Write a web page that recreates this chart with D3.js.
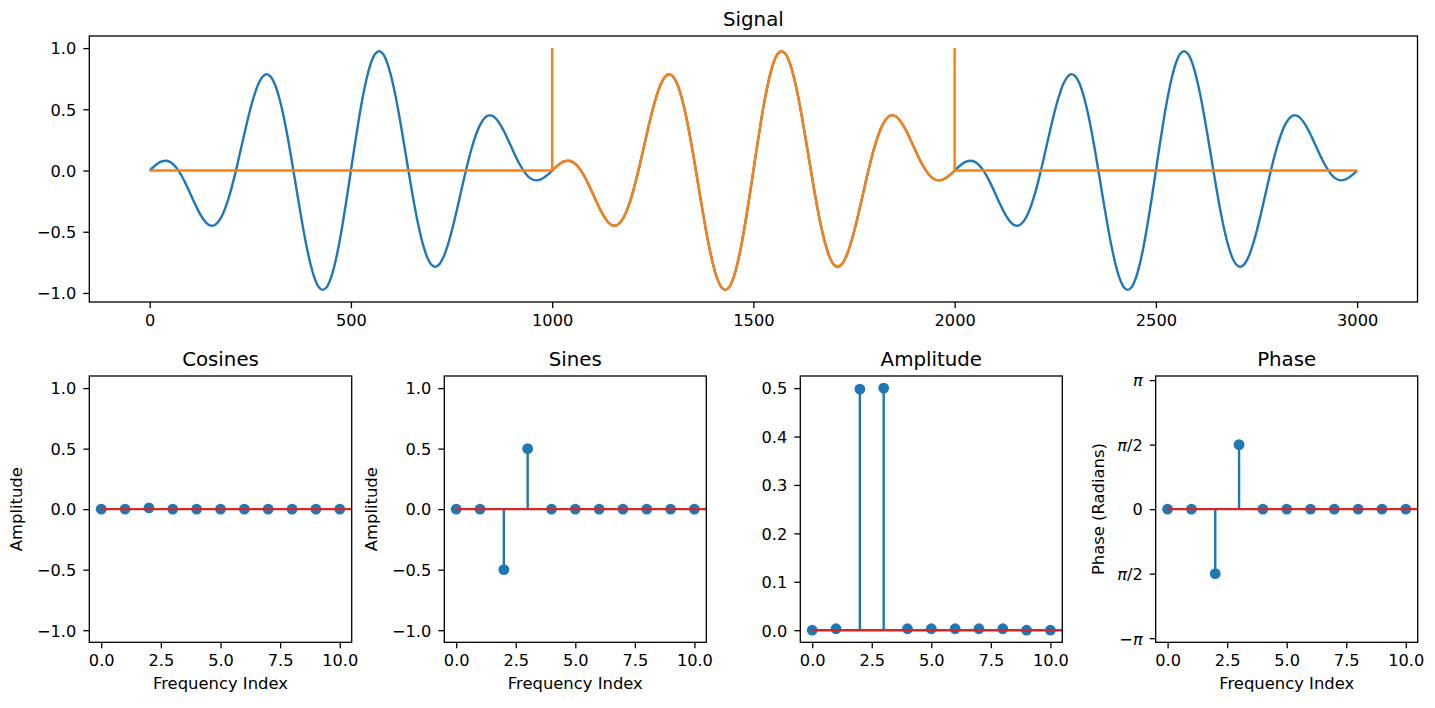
<!DOCTYPE html>
<html><head><meta charset="utf-8">
<script src="https://cdn.jsdelivr.net/npm/d3@7"></script>
<style>
body{margin:0;background:#fff}
svg{display:block}
text{font-family:"DejaVu Sans",sans-serif;fill:#000}
</style>
</head><body>
<svg id="c" width="1435" height="708"></svg>
<script>
// ---------------- DATA ----------------
// One period (t = 0..1000, every 10 samples) of the signal
const sampleStep = 10;
const periodLength = 1000;
const periodCount = 3;
const signalPeriod = [
  0, 0.031, 0.057, 0.074, 0.080, 0.071, 0.047, 0.007, -0.047, -0.111,
  -0.182, -0.254, -0.323, -0.381, -0.425, -0.448, -0.448, -0.421, -0.367, -0.286,
  -0.182, -0.058, 0.080, 0.224, 0.367, 0.500, 0.615, 0.706, 0.764, 0.787,
  0.769, 0.712, 0.615, 0.484, 0.323, 0.139, -0.057, -0.256, -0.448, -0.622,
  -0.769, -0.881, -0.951, -0.975, -0.951, -0.880, -0.764, -0.610, -0.425, -0.218,
  0, 0.218, 0.425, 0.610, 0.764, 0.880, 0.951, 0.975, 0.951, 0.881,
  0.769, 0.622, 0.448, 0.256, 0.057, -0.139, -0.323, -0.484, -0.615, -0.712,
  -0.769, -0.787, -0.764, -0.706, -0.615, -0.500, -0.367, -0.224, -0.080, 0.058,
  0.182, 0.286, 0.367, 0.421, 0.448, 0.448, 0.425, 0.381, 0.323, 0.254,
  0.182, 0.111, 0.047, -0.007, -0.047, -0.071, -0.080, -0.074, -0.057, -0.031,
  0
];
// Orange: windowed segment (1000..2000) with spikes of 1.0 at the edges, zero elsewhere
const windowStart = 1000;
const windowEnd = 2000;
const spikeTimes = [1000, 2000];
const spikeValue = 1.0;
const zeroSegments = [[0, 1000], [2000, 3000]];

const topXTicks = [0, 500, 1000, 1500, 2000, 2500, 3000];
const topYTicks = [-1.0, -0.5, 0.0, 0.5, 1.0];

const freqIndex = [0, 1, 2, 3, 4, 5, 6, 7, 8, 9, 10];
const cosines   = [0, 0, 0.01, 0, 0, 0, 0, 0, 0, 0, 0];
const sines     = [0, 0, -0.5, 0.5, 0, 0, 0, 0, 0, 0, 0];
const amplitude = [0, 0.003, 0.498, 0.5, 0.003, 0.003, 0.003, 0.003, 0.003, 0, 0];
const phase     = [0, 0, -1.5708, 1.5708, 0, 0, 0, 0, 0, 0, 0];

const freqTicks = [0, 2.5, 5, 7.5, 10];
const unitTicks = [-1.0, -0.5, 0.0, 0.5, 1.0];
const ampTicks = [0, 0.1, 0.2, 0.3, 0.4, 0.5];
const phaseTicks = [-Math.PI, -Math.PI / 2, 0, Math.PI / 2, Math.PI];
const phaseTickLabels = ["−π", "π/2", "0", "π/2", "π"];

// ---------------- STYLE ----------------
const C0 = "#1f77b4", C1 = "#ff7f0e", C3 = "#d62728";
const tickFont = 16.2, titleFont = 19.8, labelFont = 16.4;
const svg = d3.select("#c");
const fmt1 = v => d3.format(".1f")(v).replace("-", "−");

function frame(g, w, h) {
  g.append("rect").attr("x", 0).attr("y", 0).attr("width", w).attr("height", h)
    .attr("fill", "none").attr("stroke", "#000").attr("stroke-width", 1.3);
}
function styleAxis(ax) {
  ax.select(".domain").remove();
  ax.selectAll(".tick line").attr("stroke", "#000").attr("stroke-width", 1.3);
  ax.selectAll(".tick text").attr("font-size", tickFont).attr("font-family", "DejaVu Sans").attr("fill", "#000");
}
function xAxis(g, x, h, ticks, format) {
  const ax = g.append("g").attr("transform", `translate(0,${h})`)
    .call(d3.axisBottom(x).tickValues(ticks).tickFormat(format).tickSize(6).tickPadding(6).tickSizeOuter(0));
  styleAxis(ax);
  ax.selectAll(".tick text").attr("dy", "0.71em");
}
function yAxis(g, y, ticks, format) {
  const ax = g.append("g")
    .call(d3.axisLeft(y).tickValues(ticks).tickFormat(format).tickSize(6).tickPadding(7).tickSizeOuter(0));
  styleAxis(ax);
  ax.selectAll(".tick text").attr("dy", "0.36em");
  return ax;
}

// ---------------- TOP: Signal ----------------
(function () {
  const L = 89.3, R = 1417.5, T = 36, B = 302;
  const w = R - L, h = B - T;
  const g = svg.append("g").attr("transform", `translate(${L},${T})`);
  const x = d3.scaleLinear().domain([-150, 3150]).range([0, w]);
  const y = d3.scaleLinear().domain([-1.0738, 1.0988]).range([h, 0]);

  const blue = [];
  for (let p = 0; p < periodCount; p++) {
    signalPeriod.forEach((v, i) => {
      if (p > 0 && i === 0) return;
      blue.push([p * periodLength + i * sampleStep, v]);
    });
  }
  const windowed = signalPeriod.map((v, i) => [windowStart + i * sampleStep, v])
    .filter(d => d[0] <= windowEnd);

  const lineSmooth = d3.line().x(d => x(d[0])).y(d => y(d[1])).curve(d3.curveCatmullRom.alpha(0.5));

  g.append("path").datum(blue).attr("d", lineSmooth)
    .attr("fill", "none").attr("stroke", C0).attr("stroke-width", 2.4);

  // orange
  g.selectAll(".zero").data(zeroSegments).enter().append("line")
    .attr("x1", d => x(d[0])).attr("x2", d => x(d[1]))
    .attr("y1", y(0)).attr("y2", y(0))
    .attr("stroke", C1).attr("stroke-width", 2.4);
  g.selectAll(".spike").data(spikeTimes).enter().append("line")
    .attr("x1", d => x(d)).attr("x2", d => x(d))
    .attr("y1", y(0)).attr("y2", y(spikeValue))
    .attr("stroke", C1).attr("stroke-width", 2.4);
  g.append("path").datum(windowed).attr("d", lineSmooth)
    .attr("fill", "none").attr("stroke", C1).attr("stroke-width", 2.4);

  frame(g, w, h);
  xAxis(g, x, h, topXTicks, d3.format("d"));
  yAxis(g, y, topYTicks, fmt1);

  svg.append("text").attr("x", L + w / 2).attr("y", T - 10)
    .attr("text-anchor", "middle").attr("font-size", titleFont).text("Signal");
})();

// ---------------- BOTTOM: stem panels ----------------
function stemPanel(opts) {
  const T = 376, B = 642.3;
  const { L, R } = opts;
  const w = R - L, h = B - T;
  const g = svg.append("g").attr("transform", `translate(${L},${T})`);
  const x = d3.scaleLinear().domain([-0.5, 10.5]).range([0, w]);
  const y = d3.scaleLinear().domain(opts.yDomain).range([h, 0]);
  const clipId = "clip" + opts.id;
  g.append("clipPath").attr("id", clipId).append("rect").attr("width", w).attr("height", h);
  const pg = g.append("g").attr("clip-path", `url(#${clipId})`);

  const data = freqIndex.map((f, i) => ({ f, v: opts.values[i] }));
  pg.selectAll(".stem").data(data).enter().append("line")
    .attr("x1", d => x(d.f)).attr("x2", d => x(d.f))
    .attr("y1", y(0)).attr("y2", d => y(d.v))
    .attr("stroke", C0).attr("stroke-width", 2.4);
  pg.selectAll(".mk").data(data).enter().append("circle")
    .attr("cx", d => x(d.f)).attr("cy", d => y(d.v)).attr("r", 5.4)
    .attr("fill", C0);
  pg.append("line")
    .attr("x1", x(freqIndex[0])).attr("x2", w + 2)
    .attr("y1", y(0)).attr("y2", y(0))
    .attr("stroke", C3).attr("stroke-width", 2.4);

  frame(g, w, h);
  xAxis(g, x, h, freqTicks, d3.format(".1f"));
  const ay = yAxis(g, y, opts.yTicks, opts.yFormat);
  if (opts.piLabels) {
    ay.selectAll(".tick text").each(function (d, i) {
      const t = d3.select(this);
      const lab = phaseTickLabels[i];
      t.text(null);
      if (lab.includes("π")) {
        const parts = lab.split("π");
        if (parts[0]) t.append("tspan").text(parts[0]);
        t.append("tspan").attr("font-style", "italic").text("π");
        if (parts[1]) t.append("tspan").text(parts[1]);
      } else t.text(lab);
    });
  }

  g.append("text").attr("x", w / 2).attr("y", -10)
    .attr("text-anchor", "middle").attr("font-size", titleFont).text(opts.title);
  if (opts.xlabel) {
    g.append("text").attr("x", w / 2).attr("y", h + 46.7)
      .attr("text-anchor", "middle").attr("font-size", labelFont).text(opts.xlabel);
  }
  if (opts.ylabel) {
    g.append("text").attr("transform", `translate(${-opts.ylabelOff},${h / 2}) rotate(-90)`)
      .attr("text-anchor", "middle").attr("font-size", labelFont).text(opts.ylabel);
  }
}

stemPanel({ id: 1, L: 89.3, R: 351.7, yDomain: [-1.1, 1.1], values: cosines,
  yTicks: unitTicks, yFormat: fmt1, title: "Cosines", xlabel: "Frequency Index",
  ylabel: "Amplitude", ylabelOff: 67 });
stemPanel({ id: 2, L: 444.3, R: 706.3, yDomain: [-1.1, 1.1], values: sines,
  yTicks: unitTicks, yFormat: fmt1, title: "Sines", xlabel: "Frequency Index",
  ylabel: "Amplitude", ylabelOff: 67 });
stemPanel({ id: 3, L: 800.3, R: 1062.3, yDomain: [-0.025, 0.525], values: amplitude,
  yTicks: ampTicks, yFormat: d3.format(".1f"), title: "Amplitude" });
stemPanel({ id: 4, L: 1155.7, R: 1417.7, yDomain: [-Math.PI - 0.1, Math.PI + 0.1], values: phase,
  yTicks: phaseTicks, yFormat: (d, i) => phaseTickLabels[i], piLabels: true, title: "Phase",
  xlabel: "Frequency Index", ylabel: "Phase (Radians)", ylabelOff: 51.5 });
</script>
</body></html>
